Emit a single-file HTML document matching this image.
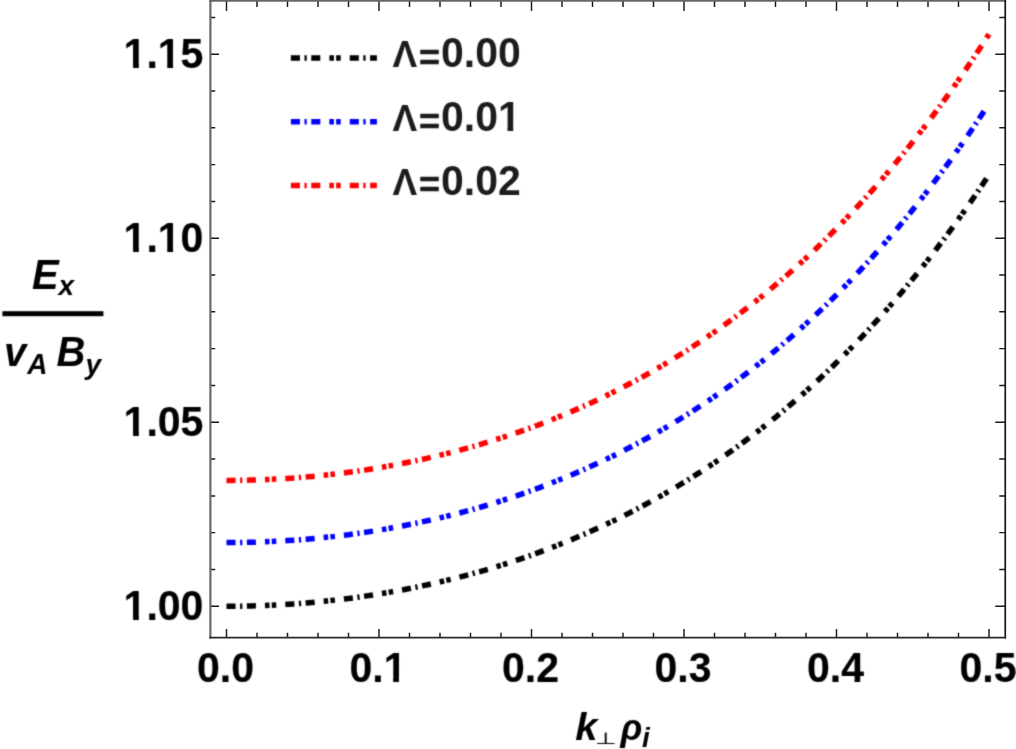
<!DOCTYPE html>
<html><head><meta charset="utf-8"><title>plot</title>
<style>
html,body{margin:0;padding:0;background:#fff;}
svg{display:block;}
text{font-family:"Liberation Sans",sans-serif;font-weight:bold;fill:#000;}
.n{font-size:41px;stroke:#000;stroke-width:0.2px;}
.lg{stroke-width:0;}
.lg text{fill:#1c1c1c;stroke:#1c1c1c;}
.i{font-style:italic;font-size:40px;}
.s{font-style:italic;font-size:28px;}
</style></head><body>
<svg width="1016" height="749" viewBox="0 0 1016 749">
<rect width="1016" height="749" fill="#fff"/>
<defs><filter id="b" color-interpolation-filters="sRGB" x="0" y="0" width="1016" height="749" filterUnits="userSpaceOnUse"><feConvolveMatrix order="3" kernelMatrix="0.0277 0.111 0.0277 0.111 0.4452 0.111 0.0277 0.111 0.0277" divisor="1" edgeMode="duplicate" preserveAlpha="false"/></filter></defs>
<g filter="url(#b)">
<g fill="none" stroke-width="5.5" stroke-dasharray="9.054 4.527 2.2635 4.527 9.054">
<path stroke="#000" d="M226.5,606.2 L232.6,606.2 L238.7,606.2 L244.8,606.1 L250.9,605.9 L257.0,605.8 L263.1,605.6 L269.2,605.3 L275.3,605.0 L281.4,604.7 L287.5,604.3 L293.6,603.9 L299.7,603.5 L305.8,603.0 L311.9,602.5 L318.0,601.9 L324.1,601.3 L330.2,600.6 L336.3,600.0 L342.4,599.2 L348.5,598.5 L354.6,597.7 L360.7,596.8 L366.8,595.9 L372.9,595.0 L379.0,594.0 L385.1,593.0 L391.2,591.9 L397.3,590.8 L403.4,589.7 L409.5,588.5 L415.6,587.3 L421.7,586.0 L427.8,584.7 L433.9,583.3 L440.0,581.9 L446.1,580.5 L452.2,579.0 L458.3,577.4 L464.4,575.8 L470.5,574.2 L476.6,572.5 L482.7,570.8 L488.8,569.0 L494.9,567.1 L501.0,565.3 L507.1,563.3 L513.2,561.3 L519.3,559.3 L525.4,557.2 L531.5,555.1 L537.6,552.9 L543.7,550.6 L549.8,548.3 L555.9,546.0 L562.0,543.5 L568.1,541.1 L574.2,538.5 L580.3,535.9 L586.4,533.3 L592.5,530.6 L598.6,527.8 L604.7,525.0 L610.8,522.1 L616.9,519.2 L623.0,516.2 L629.1,513.1 L635.2,509.9 L641.3,506.7 L647.4,503.4 L653.5,500.1 L659.6,496.7 L665.7,493.2 L671.8,489.6 L677.9,486.0 L684.0,482.3 L690.1,478.5 L696.2,474.7 L702.3,470.8 L708.4,466.8 L714.5,462.7 L720.6,458.5 L726.7,454.3 L732.8,449.9 L738.9,445.5 L745.0,441.0 L751.1,436.5 L757.2,431.8 L763.3,427.0 L769.4,422.2 L775.5,417.3 L781.6,412.2 L787.7,407.1 L793.8,401.9 L799.9,396.6 L806.0,391.2 L812.1,385.7 L818.2,380.1 L824.3,374.3 L830.4,368.5 L836.5,362.6 L842.6,356.6 L848.7,350.4 L854.8,344.2 L860.9,337.8 L867.0,331.3 L873.1,324.7 L879.2,318.0 L885.3,311.2 L891.4,304.2 L897.5,297.2 L903.6,290.0 L909.7,282.6 L915.8,275.2 L921.9,267.6 L928.0,259.9 L934.1,252.0 L940.2,244.0 L946.3,235.9 L952.4,227.6 L958.5,219.2 L964.6,210.6 L970.7,201.9 L976.8,193.0 L982.9,184.0 L989.0,174.8"/>
<path stroke="#00f" d="M226.5,542.6 L232.6,542.6 L238.7,542.5 L244.8,542.4 L250.9,542.3 L257.0,542.1 L263.1,541.9 L269.2,541.6 L275.3,541.3 L281.4,541.0 L287.5,540.6 L293.6,540.2 L299.7,539.8 L305.8,539.3 L311.9,538.7 L318.0,538.1 L324.1,537.5 L330.2,536.9 L336.3,536.2 L342.4,535.4 L348.5,534.7 L354.6,533.8 L360.7,533.0 L366.8,532.1 L372.9,531.1 L379.0,530.1 L385.1,529.1 L391.2,528.0 L397.3,526.9 L403.4,525.7 L409.5,524.5 L415.6,523.3 L421.7,522.0 L427.8,520.6 L433.9,519.3 L440.0,517.8 L446.1,516.4 L452.2,514.8 L458.3,513.3 L464.4,511.6 L470.5,510.0 L476.6,508.2 L482.7,506.5 L488.8,504.7 L494.9,502.8 L501.0,500.9 L507.1,498.9 L513.2,496.9 L519.3,494.8 L525.4,492.7 L531.5,490.5 L537.6,488.3 L543.7,486.0 L549.8,483.6 L555.9,481.2 L562.0,478.8 L568.1,476.3 L574.2,473.7 L580.3,471.1 L586.4,468.4 L592.5,465.6 L598.6,462.8 L604.7,459.9 L610.8,457.0 L616.9,454.0 L623.0,450.9 L629.1,447.8 L635.2,444.6 L641.3,441.3 L647.4,438.0 L653.5,434.6 L659.6,431.1 L665.7,427.6 L671.8,424.0 L677.9,420.3 L684.0,416.5 L690.1,412.7 L696.2,408.7 L702.3,404.7 L708.4,400.7 L714.5,396.5 L720.6,392.3 L726.7,388.0 L732.8,383.6 L738.9,379.1 L745.0,374.5 L751.1,369.9 L757.2,365.1 L763.3,360.3 L769.4,355.4 L775.5,350.3 L781.6,345.2 L787.7,340.0 L793.8,334.7 L799.9,329.3 L806.0,323.8 L812.1,318.2 L818.2,312.5 L824.3,306.7 L830.4,300.8 L836.5,294.7 L842.6,288.6 L848.7,282.3 L854.8,276.0 L860.9,269.5 L867.0,262.9 L873.1,256.2 L879.2,249.4 L885.3,242.4 L891.4,235.4 L897.5,228.2 L903.6,220.8 L909.7,213.4 L915.8,205.8 L921.9,198.1 L928.0,190.2 L934.1,182.2 L940.2,174.1 L946.3,165.8 L952.4,157.4 L958.5,148.8 L964.6,140.1 L970.7,131.2 L976.8,122.2 L982.9,113.0 L989.0,103.7"/>
<path stroke="#f00" d="M226.5,480.4 L232.6,480.4 L238.7,480.3 L244.8,480.2 L250.9,480.1 L257.0,479.9 L263.1,479.7 L269.2,479.4 L275.3,479.1 L281.4,478.8 L287.5,478.4 L293.6,478.0 L299.7,477.5 L305.8,477.0 L311.9,476.5 L318.0,475.9 L324.1,475.3 L330.2,474.6 L336.3,473.9 L342.4,473.1 L348.5,472.3 L354.6,471.5 L360.7,470.6 L366.8,469.7 L372.9,468.7 L379.0,467.7 L385.1,466.7 L391.2,465.6 L397.3,464.5 L403.4,463.3 L409.5,462.0 L415.6,460.8 L421.7,459.5 L427.8,458.1 L433.9,456.7 L440.0,455.2 L446.1,453.7 L452.2,452.2 L458.3,450.6 L464.4,448.9 L470.5,447.2 L476.6,445.5 L482.7,443.7 L488.8,441.8 L494.9,439.9 L501.0,438.0 L507.1,436.0 L513.2,433.9 L519.3,431.8 L525.4,429.7 L531.5,427.5 L537.6,425.2 L543.7,422.9 L549.8,420.5 L555.9,418.0 L562.0,415.5 L568.1,413.0 L574.2,410.4 L580.3,407.7 L586.4,405.0 L592.5,402.2 L598.6,399.3 L604.7,396.4 L610.8,393.4 L616.9,390.3 L623.0,387.2 L629.1,384.0 L635.2,380.8 L641.3,377.5 L647.4,374.1 L653.5,370.6 L659.6,367.1 L665.7,363.5 L671.8,359.8 L677.9,356.0 L684.0,352.2 L690.1,348.3 L696.2,344.3 L702.3,340.3 L708.4,336.1 L714.5,331.9 L720.6,327.6 L726.7,323.2 L732.8,318.7 L738.9,314.2 L745.0,309.5 L751.1,304.8 L757.2,300.0 L763.3,295.1 L769.4,290.1 L775.5,284.9 L781.6,279.7 L787.7,274.5 L793.8,269.1 L799.9,263.6 L806.0,258.0 L812.1,252.3 L818.2,246.5 L824.3,240.6 L830.4,234.5 L836.5,228.4 L842.6,222.2 L848.7,215.8 L854.8,209.4 L860.9,202.8 L867.0,196.1 L873.1,189.3 L879.2,182.3 L885.3,175.3 L891.4,168.1 L897.5,160.7 L903.6,153.3 L909.7,145.7 L915.8,138.0 L921.9,130.1 L928.0,122.2 L934.1,114.0 L940.2,105.8 L946.3,97.3 L952.4,88.8 L958.5,80.1 L964.6,71.2 L970.7,62.2 L976.8,53.0 L982.9,43.7 L989.0,34.2"/>
<path stroke="#000" d="M290.9,58H376.9"/>
<path stroke="#00f" d="M290.9,121.8H376.9"/>
<path stroke="#f00" d="M290.9,185.4H376.9"/>
</g>

<g class="n">
<g transform="translate(203.4,68.2) scale(1,1.032)"><text x="-79.80" y="0">1.15</text><rect x="-78.60" y="-5.0" width="8.25" height="6.8" fill="#fff" stroke="none"/><rect x="-64.55" y="-5.0" width="7.7" height="6.8" fill="#fff" stroke="none"/><rect x="-44.40" y="-5.0" width="8.25" height="6.8" fill="#fff" stroke="none"/><rect x="-30.35" y="-5.0" width="7.7" height="6.8" fill="#fff" stroke="none"/></g>
<g transform="translate(203.4,252.2) scale(1,1.032)"><text x="-79.80" y="0">1.10</text><rect x="-78.60" y="-5.0" width="8.25" height="6.8" fill="#fff" stroke="none"/><rect x="-64.55" y="-5.0" width="7.7" height="6.8" fill="#fff" stroke="none"/><rect x="-44.40" y="-5.0" width="8.25" height="6.8" fill="#fff" stroke="none"/><rect x="-30.35" y="-5.0" width="7.7" height="6.8" fill="#fff" stroke="none"/></g>
<g transform="translate(203.4,436.2) scale(1,1.032)"><text x="-79.80" y="0">1.05</text><rect x="-78.60" y="-5.0" width="8.25" height="6.8" fill="#fff" stroke="none"/><rect x="-64.55" y="-5.0" width="7.7" height="6.8" fill="#fff" stroke="none"/></g>
<g transform="translate(203.4,620.2) scale(1,1.032)"><text x="-79.80" y="0">1.00</text><rect x="-78.60" y="-5.0" width="8.25" height="6.8" fill="#fff" stroke="none"/><rect x="-64.55" y="-5.0" width="7.7" height="6.8" fill="#fff" stroke="none"/></g>
<g transform="translate(225.5,681.7) scale(1,1.032)"><text x="-28.50" y="0">0.0</text></g>
<g transform="translate(378,681.7) scale(1,1.032)"><text x="-28.50" y="0">0.1</text><rect x="6.90" y="-5.0" width="8.25" height="6.8" fill="#fff" stroke="none"/><rect x="20.95" y="-5.0" width="7.7" height="6.8" fill="#fff" stroke="none"/></g>
<g transform="translate(530.5,681.7) scale(1,1.032)"><text x="-28.50" y="0">0.2</text></g>
<g transform="translate(683,681.7) scale(1,1.032)"><text x="-28.50" y="0">0.3</text></g>
<g transform="translate(835.5,681.7) scale(1,1.032)"><text x="-28.50" y="0">0.4</text></g>
<g transform="translate(988,681.7) scale(1,1.032)"><text x="-28.50" y="0">0.5</text></g>
<g class="lg">
<text transform="translate(392.6,67)" style="font-size:37px">Λ</text>
<text transform="translate(418.9,69.9)" style="font-size:36px;stroke-width:0.5px">=</text>
<g transform="translate(441.0,67.2) scale(1,1.05)"><text x="0.00" y="0">0.00</text></g>
</g>
<g class="lg">
<text transform="translate(392.6,131)" style="font-size:37px">Λ</text>
<text transform="translate(418.9,133.9)" style="font-size:36px;stroke-width:0.5px">=</text>
<g transform="translate(441.0,131.2) scale(1,1.05)"><text x="0.00" y="0">0.01</text><rect x="58.20" y="-5.0" width="8.25" height="6.8" fill="#fff" stroke="none"/><rect x="72.25" y="-5.0" width="7.7" height="6.8" fill="#fff" stroke="none"/></g>
</g>
<g class="lg">
<text transform="translate(392.6,194.5)" style="font-size:37px">Λ</text>
<text transform="translate(418.9,197.4)" style="font-size:36px;stroke-width:0.5px">=</text>
<g transform="translate(441.0,194.7) scale(1,1.05)"><text x="0.00" y="0">0.02</text></g>
</g>
</g>
<rect x="2.4" y="311.2" width="101" height="5" fill="#000"/>
<text class="i" transform="translate(32,288.8) scale(1,1.07)">E</text><text class="s" x="58.5" y="295.0">x</text>
<text class="i" x="4" y="365.6">v</text><text class="s" transform="translate(27.3,374.0) scale(1,1.08)">A</text>
<text class="i" transform="translate(56.4,365.6) scale(1,1.065)">B</text><text class="s" x="85.6" y="374.4">y</text>
<text class="i" transform="translate(575.3,740.2) scale(1,0.965)">k</text><text transform="translate(595,744.3) scale(1.03,0.67)" style="font-size:24px;font-weight:normal;stroke:#000;stroke-width:0.3px">⊥</text>
<text class="i" transform="translate(620.5,740.2) scale(1,1.04)" style="font-size:36px">ρ</text><text class="s" x="642" y="746.7">i</text>
</g>
<g fill="none">
<path stroke="#181818" stroke-width="1.45" d="M226.5,637.6v-8.5M226.5,1.0v10M257.0,637.6v-4.8M257.0,1.0v6M287.5,637.6v-4.8M287.5,1.0v6M318.0,637.6v-4.8M318.0,1.0v6M348.5,637.6v-4.8M348.5,1.0v6M379.0,637.6v-8.5M379.0,1.0v10M409.5,637.6v-4.8M409.5,1.0v6M440.0,637.6v-4.8M440.0,1.0v6M470.5,637.6v-4.8M470.5,1.0v6M501.0,637.6v-4.8M501.0,1.0v6M531.5,637.6v-8.5M531.5,1.0v10M562.0,637.6v-4.8M562.0,1.0v6M592.5,637.6v-4.8M592.5,1.0v6M623.0,637.6v-4.8M623.0,1.0v6M653.5,637.6v-4.8M653.5,1.0v6M684.0,637.6v-8.5M684.0,1.0v10M714.5,637.6v-4.8M714.5,1.0v6M745.0,637.6v-4.8M745.0,1.0v6M775.5,637.6v-4.8M775.5,1.0v6M806.0,637.6v-4.8M806.0,1.0v6M836.5,637.6v-8.5M836.5,1.0v10M867.0,637.6v-4.8M867.0,1.0v6M897.5,637.6v-4.8M897.5,1.0v6M928.0,637.6v-4.8M928.0,1.0v6M958.5,637.6v-4.8M958.5,1.0v6M989.0,637.6v-8.5M989.0,1.0v10M210.4,606.2h8.6M1005.25,606.2h-10M210.4,569.5h4.8M1005.25,569.5h-6M210.4,532.6h4.8M1005.25,532.6h-6M210.4,495.9h4.8M1005.25,495.9h-6M210.4,459.0h4.8M1005.25,459.0h-6M210.4,422.2h8.6M1005.25,422.2h-10M210.4,385.4h4.8M1005.25,385.4h-6M210.4,348.6h4.8M1005.25,348.6h-6M210.4,311.8h4.8M1005.25,311.8h-6M210.4,275.0h4.8M1005.25,275.0h-6M210.4,238.2h8.6M1005.25,238.2h-10M210.4,201.4h4.8M1005.25,201.4h-6M210.4,164.6h4.8M1005.25,164.6h-6M210.4,127.8h4.8M1005.25,127.8h-6M210.4,91.0h4.8M1005.25,91.0h-6M210.4,54.2h8.6M1005.25,54.2h-10M210.4,17.4h4.8M1005.25,17.4h-6"/>
<path stroke="#6a6a6a" stroke-width="2.2" d="M210.4,0V638.45"/>
<path stroke="#666" stroke-width="1.8" d="M209.3,0.85H1006.1"/>
<path stroke="#151515" stroke-width="1.7" d="M1005.25,0V638.45"/>
<path stroke="#2a2a2a" stroke-width="1.7" d="M209.3,637.6H1006.1"/>
</g>
</svg>
</body></html>
